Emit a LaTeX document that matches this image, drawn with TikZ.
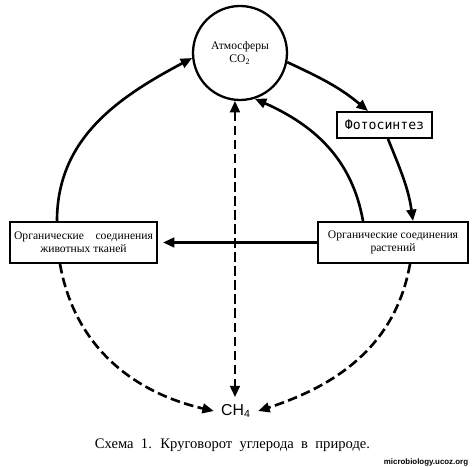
\documentclass[tikz,border=0pt]{standalone}
\usepackage{fontspec}
\setmainfont{Liberation Serif}
\newfontfamily\sansfont{Liberation Sans}
\newfontfamily\monofont{DejaVu Sans Mono}
\newfontfamily\captionfont[WordSpace=2]{Liberation Serif}
\usetikzlibrary{arrows.meta}

\begin{document}
\begin{tikzpicture}[x=0.2mm, y=0.2mm,
    tip/.tip={Triangle[length=6.5pt,width=5.5pt]},
    txt/.style={font=\fontsize{6.6}{7.6}\selectfont},
    box/.style={txt, draw, line width=1.1pt, align=center, inner sep=0pt},
    flow/.style={line width=1.5pt, -tip},
    gas/.style={flow, dash pattern=on 5.5pt off 2.5pt}]
  \useasboundingbox (0,0) rectangle (474,467);
  % atmosphere
  \node[txt, draw, circle, line width=1.3pt, minimum size=18.8mm, align=center]
        (atm) at (240,414) {Атмосферы\\CO\textsubscript{2}};
  % boxes
  \node[box, minimum width=19mm, minimum height=5.2mm,
        font=\monofont\fontsize{7.5}{9}\selectfont] (photo) at (384.5,342) {Фотосинтез};
  \node[box, minimum width=30mm, minimum height=8.2mm]
        (plants) at (393,224.5) {Органические соединения\\растений};
  \node[box, minimum width=29.4mm, minimum height=8.2mm]
        (animals) at (83.5,224.5) {Органические\quad соединения\\животных тканей};
  \node[font=\sansfont\fontsize{9}{10}\selectfont, inner sep=4pt] (ch4) at (236,56) {CH\textsubscript{4}};
  % caption
  \node[font=\captionfont\fontsize{8.3}{10}\selectfont] (caption) at (232.5,22)
        {Схема 1. Круговорот углерода в природе.};
  \node[font=\sansfont\bfseries\fontsize{4.5}{5}\selectfont] (site) at (426,5) {microbiology.ucoz.org};
  % cycle of CO2
  \draw[flow] ([xshift=-5.3mm]animals.north) to[out=90, in=208] (atm.186);
  \draw[flow] (atm.-11) to[out=-25, in=140] ([xshift=-3.3mm]photo.north);
  \draw[flow] ([xshift=0.7mm]photo.south) to[out=-68, in=98] ([xshift=4mm]plants.north);
  \draw[flow] ([xshift=-6mm]plants.north) to[out=100, in=-24] (atm.-72);
  \draw[flow, shorten >=1mm] (plants.west) -- (animals.east);
  % methane
  \draw[gas, tip-tip] (atm.-96) -- (atm.-96 |- ch4.north);
  \draw[gas] ([xshift=-4.7mm]animals.south) to[out=-80, in=167] (ch4.west);
  \draw[gas] ([xshift=3.4mm]plants.south) to[out=-100, in=18] (ch4.east);
\end{tikzpicture}
\end{document}
